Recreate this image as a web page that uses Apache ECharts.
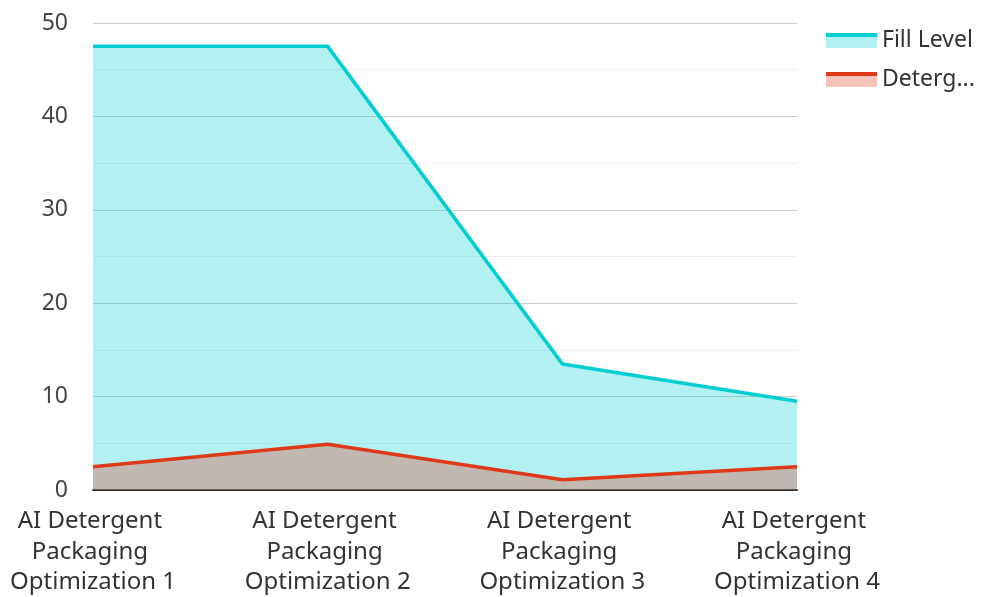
<!DOCTYPE html>
<html><head><meta charset="utf-8">
<script src="https://cdn.jsdelivr.net/npm/echarts@6/dist/echarts.min.js"></script>
<style>html,body{margin:0;padding:0;background:#fff}#c{width:982px;height:597px}</style>
</head><body><div id="c"></div>
<script>
const categories = ["AI Detergent Packaging Optimization 1","AI Detergent Packaging Optimization 2","AI Detergent Packaging Optimization 3","AI Detergent Packaging Optimization 4"];
const fillLevel = [47.5, 47.5, 13.5, 9.5];
const detergentUsage = [2.5, 4.9, 1.1, 2.5];
const seriesNames = ["Fill Level", "Detergent Usage"];
const colors = ['#00CED1', '#E0391A'];
const lights = ['rgba(0,206,209,0.3)', 'rgba(224,57,26,0.3)'];
function legendFill(i) {
  return new echarts.graphic.LinearGradient(0, 0, 0, 1, [
    {offset: 0, color: colors[i]}, {offset: 0.3, color: colors[i]},
    {offset: 0.3, color: lights[i]}, {offset: 1, color: lights[i]}
  ]);
}
const chart = echarts.init(document.getElementById('c'));
chart.setOption({
  animation: false,
  textStyle: {fontFamily: "Noto Sans"},
  grid: {left: 93, right: 185, top: 23, bottom: 107, containLabel: false, outerBoundsMode: 'none'},
  legend: {
    left: 821, top: 24, orient: 'vertical', itemGap: 16, itemWidth: 51, itemHeight: 15,
    icon: 'rect',
    textStyle: {fontSize: 23, color: '#333', width: 101, overflow: 'truncate', padding: [0, 0, 7, 0]},
    data: seriesNames.map((n, i) => ({name: n, itemStyle: {color: legendFill(i)}, lineStyle: {opacity: 0}}))
  },
  xAxis: {
    type: 'category', data: categories, boundaryGap: false,
    axisLine: {lineStyle: {color: '#333', width: 2}},
    axisTick: {show: false},
    axisLabel: {fontSize: 24, color: '#333', lineHeight: 30.5, width: 200, overflow: 'break', interval: 0, margin: 16}
  },
  yAxis: {
    type: 'value', min: 0, max: 50, interval: 10,
    axisLabel: {fontSize: 23, color: '#444', margin: 25},
    splitLine: {lineStyle: {color: '#ccc'}},
    minorTick: {show: false, splitNumber: 2},
    minorSplitLine: {show: true, lineStyle: {color: '#eee'}}
  },
  series: [
    {name: seriesNames[0], type: 'line', data: fillLevel, symbol: 'none',
     lineStyle: {color: colors[0], width: 3.5}, itemStyle: {color: colors[0]},
     areaStyle: {color: colors[0], opacity: 0.3}},
    {name: seriesNames[1], type: 'line', data: detergentUsage, symbol: 'none',
     lineStyle: {color: colors[1], width: 3.5}, itemStyle: {color: colors[1]},
     areaStyle: {color: colors[1], opacity: 0.3}}
  ]
});
</script></body></html>
